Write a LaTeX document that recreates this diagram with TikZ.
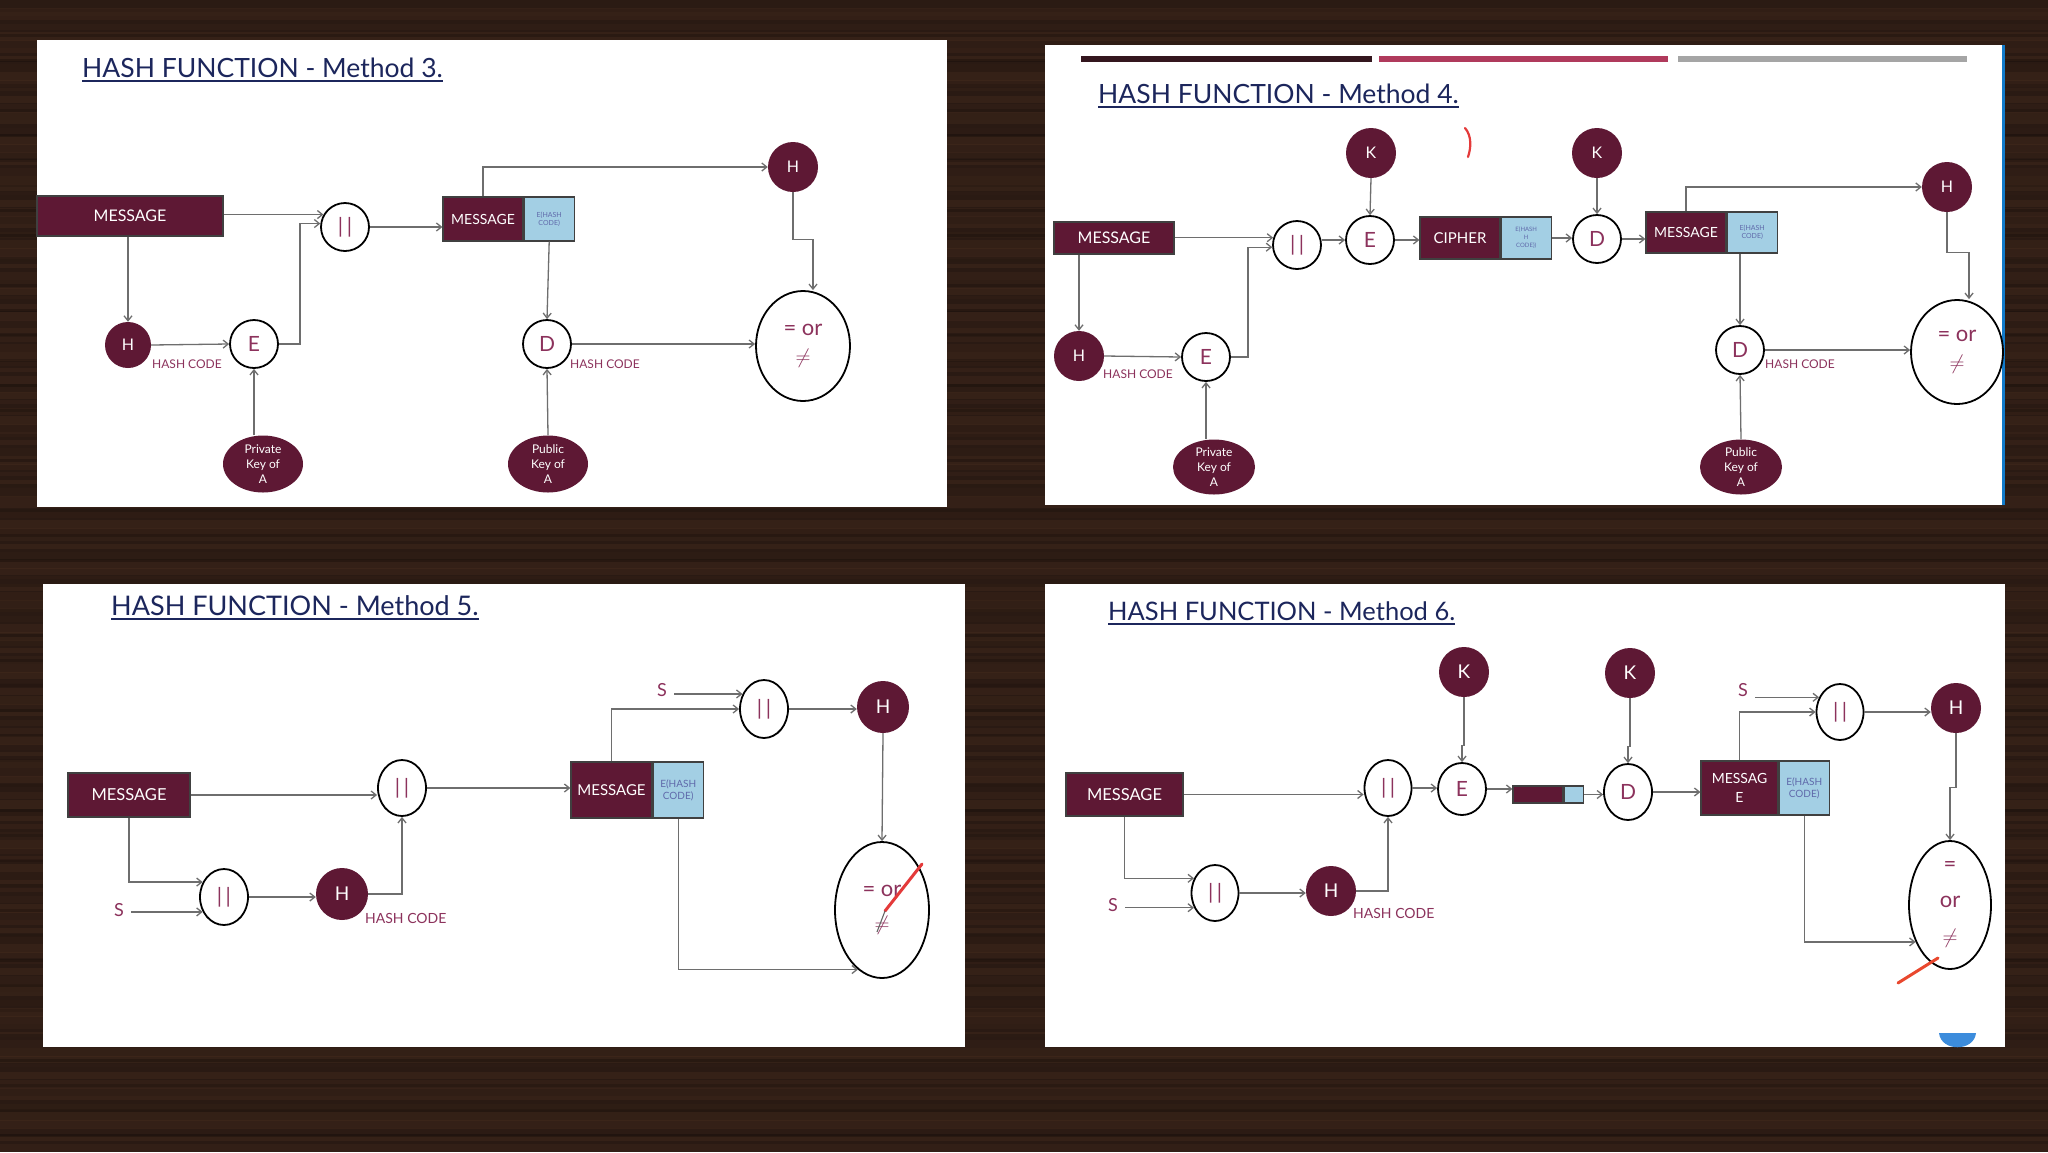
\documentclass[tikz,border=0pt]{standalone}
\usepackage{fontspec}
\setmainfont{Lato}
\usetikzlibrary{arrows.meta,shapes.geometric,calc}
\definecolor{wood}{RGB}{42,26,19}
\definecolor{woodl}{RGB}{92,58,39}
\definecolor{woodd}{RGB}{18,11,8}
\definecolor{maroon}{RGB}{94,24,52}
\definecolor{pinkt}{RGB}{140,50,92}
\definecolor{navy}{RGB}{28,38,92}
\definecolor{lblue}{RGB}{163,207,228}
\definecolor{lgrey}{RGB}{110,110,110}
\definecolor{btxt}{RGB}{95,105,170}
\definecolor{bardark}{RGB}{52,22,30}
\definecolor{barpink}{RGB}{176,58,92}
\definecolor{bargrey}{RGB}{165,165,165}
\definecolor{redmark}{RGB}{228,58,58}
\definecolor{bluebowl}{RGB}{60,140,220}
\tikzset{
 every node/.style={inner sep=0pt},
 panel/.style={fill=white},
 ttl/.style={text=navy, anchor=base west, font=\fontsize{26.5}{30}\selectfont},
 mbox/.style={rectangle, fill=maroon, draw=black!75, line width=1.2pt, text=white, font=\fontsize{16}{19}\selectfont},
 bbox/.style={rectangle, fill=lblue, draw=black!75, line width=1.2pt, text=btxt, align=center, font=\fontsize{7}{8}\selectfont},
 opc/.style={ellipse, draw=black, line width=1.8pt, fill=white, text=pinkt, minimum width=46pt, minimum height=46pt, font=\fontsize{21}{24}\selectfont},
 fcirc/.style={circle, fill=maroon, text=white, minimum size=50pt, font=\fontsize{16}{19}\selectfont},
 keye/.style={ellipse, fill=maroon, text=white, minimum width=80pt, minimum height=57pt, align=center, font=\fontsize{12}{15}\selectfont},
 cmpe/.style={ellipse, draw=black, line width=1.8pt, fill=white, text=pinkt, align=center, font=\fontsize{22}{28}\selectfont},
 conn/.style={draw=lgrey, line width=1.3pt, -{Straight Barb[length=5pt,width=8pt]}},
 lbl/.style={text=pinkt, anchor=west, font=\fontsize{12}{14}\selectfont},
 slbl/.style={text=pinkt, font=\fontsize{18}{20}\selectfont},
}
\begin{document}
\begin{tikzpicture}[x=1pt,y=-1pt]
\useasboundingbox (0,0) rectangle (2048,1152);
% ---------- background (dark wood) ----------
\begin{scope}
\clip (0,0) rectangle (2048,1152);
\fill[wood] (0,0) rectangle (2048,1152);
\foreach \i in {0,...,143} {
  \pgfmathsetmacro\op{0.04+0.20*abs(sin(\i*67.7))}
  \pgfmathsetmacro\hh{3+6*abs(cos(\i*41.3))}
  \fill[woodl, opacity=\op] (0,\i*8) rectangle (2048,\i*8+\hh);
}
\foreach \i in {0,...,45} {
  \pgfmathsetmacro\op{0.10+0.25*abs(sin(\i*53.7))}
  \fill[woodd, opacity=\op] (0,\i*25+9) rectangle (2048,\i*25+12);
}
\end{scope}

% ================= Panel A : Method 3 =================
\fill[panel] (37,40) rectangle (947,507);
\node[ttl] (ta) at (82,77) {HASH FUNCTION - Method 3.};
\draw[navy, line width=1.5pt] ($(ta.base west)+(0,4)$) -- ($(ta.base east)+(0,4)$);

\node[mbox, minimum width=186pt, minimum height=40pt] (a1) at (130,216) {MESSAGE};
\node[opc, minimum width=48pt, minimum height=48pt] (a2) at (345,227) {|\,|};
\node[fcirc, minimum size=46pt] (a3) at (128,345) {H};
\node[opc, minimum width=48pt, minimum height=48pt] (a4) at (254,344) {E};
\node[lbl] (a3l) at (152,364) {HASH CODE};
\node[keye] (a5) at (263,464) {Private\\Key of\\A};
\node[mbox, minimum width=80pt, minimum height=44pt, font=\fontsize{14}{16}\selectfont] (a6) at (483,219) {MESSAGE};
\node[bbox, minimum width=50pt, minimum height=44pt, anchor=west] (a6b) at (a6.east) {E(HASH\\CODE)};
\node[fcirc] (a7) at (793,167) {H};
\node[opc, minimum width=48pt, minimum height=48pt] (a8) at (547,344) {D};
\node[keye] (a9) at (548,464) {Public\\Key of\\A};
\node[cmpe, minimum width=94pt, minimum height=110pt] (a10) at (803,346) {= or\\$\neq$};
\node[lbl] (a8l) at (570,364) {HASH CODE};

\draw[conn] (a1.east |- a2.150) -- (a2.150);
\draw[conn] (a1.south -| a3.north) -- (a3.north);
\draw[conn] (a3.east) -- (a4.west);
\draw[conn] (a5.north -| a4.south) -- (a4.south);
\draw[conn] (a4.east) -- ++(21,0) |- (a2.172);
\draw[conn] (a2.east) -- (a2.east -| a6.west);
\draw[conn] (a6.north) |- (a7.west);
\draw[conn] (a6b.south) -- (a8.north);
\draw[conn] (a9.north) -- (a8.south);
\draw[conn] (a8.east) -- (a8.east -| a10.west);
\draw[conn] (a7.south) -- ++(0,47) -| ($(a10.north)+(10,0)$);

% ================= Panel B : Method 4 =================
\fill[panel] (1045,45) rectangle (2002,505);
\fill[cyan!60!blue] (2002,45) rectangle (2005,505);
\draw[bardark, line width=6pt] (1081,59) -- (1372,59);
\draw[barpink, line width=6pt] (1379,59) -- (1668,59);
\draw[bargrey, line width=6pt] (1678,59) -- (1967,59);
\node[ttl] (tb) at (1098,103) {HASH FUNCTION - Method 4.};
\draw[navy, line width=1.5pt] ($(tb.base west)+(0,4)$) -- ($(tb.base east)+(0,4)$);
\draw[redmark, line width=2.2pt, line cap=round] (1465,128) .. controls (1472,136) and (1471,148) .. (1468,157);

\node[mbox, minimum width=120pt, minimum height=32pt] (b1) at (1114,238) {MESSAGE};
\node[opc, minimum width=48pt, minimum height=48pt] (b2) at (1297,245) {|\,|};
\node[fcirc] (b3) at (1079,356) {H};
\node[opc, minimum width=48pt, minimum height=48pt] (b4) at (1206,357) {E};
\node[lbl] (b3l) at (1103,374) {HASH CODE};
\node[keye, minimum width=82pt, minimum height=55pt] (b5) at (1214,467) {Private\\Key of\\A};
\node[fcirc] (b6) at (1371,153) {K};
\node[opc, minimum width=48pt, minimum height=48pt] (b7) at (1370,240) {E};
\node[mbox, minimum width=80pt, minimum height=42pt, font=\fontsize{15}{18}\selectfont] (b8) at (1460,238) {CIPHER};
\node[bbox, minimum width=50pt, minimum height=42pt, anchor=west, font=\fontsize{6}{8}\selectfont] (b8b) at (b8.east) {E(HASH\\H\\CODE))};
\node[opc, minimum width=48pt, minimum height=48pt] (b9) at (1597,239) {D};
\node[fcirc] (b10) at (1597,153) {K};
\node[mbox, minimum width=80pt, minimum height=41pt, font=\fontsize{14}{16}\selectfont] (b11) at (1686,232.5) {MESSAGE};
\node[bbox, minimum width=50pt, minimum height=41pt, anchor=west] (b11b) at (b11.east) {E(HASH\\CODE)};
\node[fcirc] (b12) at (1947,187) {H};
\node[cmpe, minimum width=92pt, minimum height=104pt] (b13) at (1957,352) {= or\\$\neq$};
\node[opc, minimum width=48pt, minimum height=48pt] (b14) at (1740,350) {D};
\node[keye, minimum width=82pt, minimum height=55pt] (b15) at (1741,467) {Public\\Key of\\A};
\node[lbl] (b14l) at (1765,364) {HASH CODE};

\draw[conn] (b1.east |- b2.163) -- (b2.163);
\draw[conn] (b1.south -| b3.north) -- (b3.north);
\draw[conn] (b3.east) -- (b4.west);
\draw[conn] (b5.north -| b4.south) -- (b4.south);
\draw[conn] (b4.east) -- ++(17,0) |- (b2.185);
\draw[conn] (b6.south) -- (b7.north);
\draw[conn] (b7.west -| b2.east) -- (b7.west);
\draw[conn] (b7.east) -- (b7.east -| b8.west);
\draw[conn] (b8b.east) -- (b8b.east -| b9.west);
\draw[conn] (b10.south) -- (b9.north);
\draw[conn] (b9.east) -- (b9.east -| b11.west);
\draw[conn] (b11.north) |- (b12.west);
\draw[conn] (b12.south) -- ++(0,40) -| ($(b13.north)+(12,0)$);
\draw[conn] (b14.north |- b11b.south) -- (b14.north);
\draw[conn] (b15.north) -- (b14.south);
\draw[conn] (b14.east) -- (b14.east -| b13.west);

% ================= Panel C : Method 5 =================
\fill[panel] (43,584) rectangle (965,1047);
\node[ttl, font=\fontsize{27}{32}\selectfont] (tc) at (111,615) {HASH FUNCTION - Method 5.};
\draw[navy, line width=1.5pt] ($(tc.base west)+(0,4)$) -- ($(tc.base east)+(0,4)$);

\node[mbox, minimum width=122pt, minimum height=44pt, font=\fontsize{16.5}{20}\selectfont] (c1) at (129,795) {MESSAGE};
\node[opc, minimum width=48pt, minimum height=56pt] (c2) at (402,788) {|\,|};
\node[opc, minimum width=48pt, minimum height=56pt] (c3) at (224,897) {|\,|};
\node[slbl] (c4) at (119,910) {S};
\node[fcirc, minimum size=52pt, font=\fontsize{19}{22}\selectfont] (c5) at (342,894) {H};
\node[lbl, font=\fontsize{14}{16}\selectfont] (c5l) at (365,918) {HASH CODE};
\node[mbox, minimum width=81pt, minimum height=56pt, font=\fontsize{15}{18}\selectfont] (c6) at (611.5,790) {MESSAGE};
\node[bbox, minimum width=50pt, minimum height=56pt, anchor=west, font=\fontsize{10}{12}\selectfont] (c6b) at (c6.east) {E(HASH\\CODE)};
\node[opc, minimum width=48pt, minimum height=58pt] (c7) at (764,709) {|\,|};
\node[slbl] (c8) at (662,690) {S};
\node[fcirc, minimum size=52pt, font=\fontsize{19}{22}\selectfont] (c9) at (883,707) {H};
\node[cmpe, minimum width=94pt, minimum height=136pt] (c10) at (882,910) {= or\\[6pt]$\neq$};

\draw[conn] (c1.east) -- (c1.east -| c2.west);
\draw[conn] (c1.south) |- (c3.145);
\draw[conn] ($(c3.215 -| c4.east)+(7,0)$) -- (c3.215);
\draw[conn] (c3.east) -- (c3.east -| c5.west);
\draw[conn] (c5.east) -| (c2.south);
\draw[conn] (c2.east) -- (c2.east -| c6.west);
\draw[conn] (c6.north) |- (c7.west);
\draw[conn] ($(c7.145 -| c8.east)+(7,0)$) -- (c7.145);
\draw[conn] (c7.east) -- (c7.east -| c9.west);
\draw[conn] (c9.south) -- (c10.north);
\draw[conn] (c6b.south) |- (c10.248);
\draw[redmark, line width=3pt, line cap=round] (922,864) -- (885,911);
\draw[black!60, line width=1.1pt] (885,911) -- (877,932);

% ================= Panel D : Method 6 =================
\fill[panel] (1045,584) rectangle (2005,1047);
\node[ttl, font=\fontsize{25.5}{30}\selectfont] (td) at (1108,620) {HASH FUNCTION - Method 6.};
\draw[navy, line width=1.5pt] ($(td.base west)+(0,4)$) -- ($(td.base east)+(0,4)$);

\node[mbox, minimum width=117pt, minimum height=43pt, font=\fontsize{16.5}{20}\selectfont] (d1) at (1124.5,794.5) {MESSAGE};
\node[opc, minimum width=47pt, minimum height=56pt] (d2) at (1388,788) {|\,|};
\node[opc, minimum width=47pt, minimum height=56pt] (d3) at (1215,893) {|\,|};
\node[slbl] (d4) at (1113,905) {S};
\node[fcirc, font=\fontsize{19}{22}\selectfont] (d5) at (1331,891) {H};
\node[lbl, font=\fontsize{14}{16}\selectfont] (d5l) at (1353,913) {HASH CODE};
\node[opc, minimum width=48pt, minimum height=52pt] (d6) at (1462,789) {E};
\node[fcirc, font=\fontsize{19}{22}\selectfont] (d7) at (1464,672) {K};
\node[mbox, minimum width=50pt, minimum height=17pt] (d8) at (1538,794.5) {};
\node[bbox, minimum width=19pt, minimum height=17pt, anchor=west] (d8b) at (d8.east) {};
\node[opc, minimum width=48pt, minimum height=56pt] (d9) at (1628,792) {D};
\node[fcirc, font=\fontsize{19}{22}\selectfont] (d10) at (1630,673) {K};
\node[mbox, minimum width=77pt, minimum height=54pt, align=center, font=\fontsize{14}{19}\selectfont] (d11) at (1739.5,788) {MESSAG\\E};
\node[bbox, minimum width=50pt, minimum height=54pt, anchor=west, font=\fontsize{10}{12}\selectfont] (d11b) at (d11.east) {E(HASH\\CODE)};
\node[opc, minimum width=47pt, minimum height=56pt] (d12) at (1840,712) {|\,|};
\node[slbl] (d13) at (1743,690) {S};
\node[fcirc, font=\fontsize{19}{22}\selectfont] (d14) at (1956,708) {H};
\node[cmpe, minimum width=82pt, minimum height=128pt, font=\fontsize{22}{36}\selectfont] (d15) at (1950,905) {=\\or\\$\neq$};

\draw[conn] (d1.east) -- (d1.east -| d2.west);
\draw[conn] (d1.south) |- (d3.145);
\draw[conn] ($(d3.215 -| d4.east)+(7,0)$) -- (d3.215);
\draw[conn] (d3.east) -- (d3.east -| d5.west);
\draw[conn] (d5.east) -| (d2.south);
\draw[conn] (d2.east) -- (d2.east -| d6.west);
\draw[conn] (d7.south) -- ++(0,48) -| (d6.north);
\draw[conn] (d6.east) -- (d6.east -| d8.west);
\draw[conn] (d8b.east) -- (d8b.east -| d9.west);
\draw[conn] (d10.south) -- ++(0,48) -| (d9.north);
\draw[conn] (d9.east) -- (d9.east -| d11.west);
\draw[conn] (d11.north) |- (d12.west);
\draw[conn] ($(d12.145 -| d13.east)+(7,0)$) -- (d12.145);
\draw[conn] (d12.east) -- (d12.east -| d14.west);
\draw[conn] (d14.south) -- ++(0,54) -| (d15.north);
\draw[conn] (d11b.south) |- (d15.227);
\draw[redmark!80!orange, line width=3pt, line cap=round] (1898,983) -- (1938,958);
\fill[bluebowl] (1939,1033) -- (1976,1033) .. controls (1974,1052) and (1941,1052) .. cycle;
\end{tikzpicture}
\end{document}
